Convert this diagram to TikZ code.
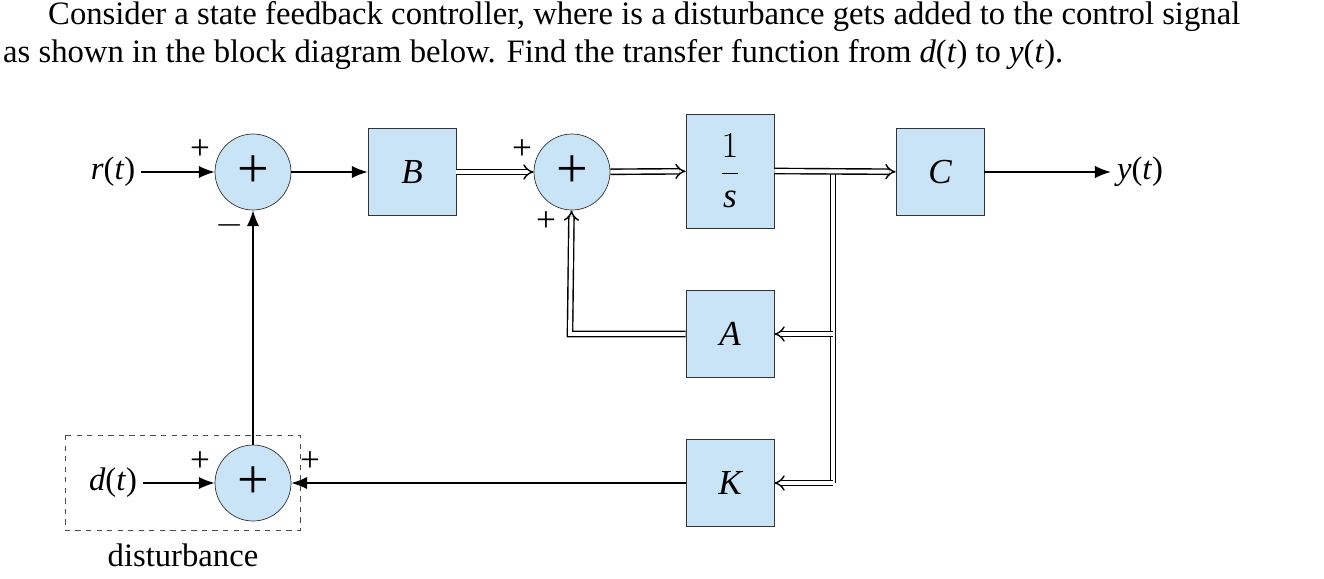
\documentclass[tikz,border=0pt]{standalone}
\usepackage{fontspec}
\setmainfont{Liberation Serif}
\usetikzlibrary{arrows.meta}
\definecolor{bfill}{RGB}{200,228,246}
\newcommand{\vv}[1]{\textit{#1}}
\begin{document}
\begin{tikzpicture}[x=0.02cm,y=-0.02cm,
  blk/.style={draw=black!80,fill=bfill,minimum width=1.76cm,minimum height=1.74cm,inner sep=0pt,font=\fontsize{20}{22}\selectfont\itshape},
  sum/.style={circle,draw=black!80,fill=bfill,minimum size=1.52cm,inner sep=0pt,font=\fontsize{32}{32}\selectfont},
  sig/.style={-{Latex[length=9pt,width=7pt]},thick},
  dbl/.style={double,double distance=2.2pt,thick,-{Implies[length=6pt]}},
  dbln/.style={double,double distance=2.2pt,thick},
  lab/.style={font=\fontsize{18.6}{22}\selectfont},
  pm/.style={font=\fontsize{20}{20}\selectfont}]
\useasboundingbox (0,0) rectangle (1324,578);
\node[lab,anchor=west] at (42,17) {Consider a state feedback controller, where is a disturbance gets added to the control signal};
\node[lab,anchor=west] at (-3,55) {as shown in the block diagram below. Find the transfer function from \vv{d}(\vv{t}) to \vv{y}(\vv{t}).};
\draw[dashed,black!70] (65,435) rectangle (300,530);
\node[lab] (dl) at (183,555) {disturbance};
\node[lab] (r) at (113,172) {\vv{r}(\vv{t})};
\node[lab] (d) at (113,483) {\vv{d}(\vv{t})};
\node[lab] (y) at (1140,172) {\vv{y}(\vv{t})};
\node[sum] (s1) at (253,172) {+};
\node[sum] (s2) at (572,172) {+};
\node[sum] (s3) at (253,483) {+};
\node[blk] (B) at (412,172) {B};
\node[blk,minimum height=2.28cm] (I) at (730,171) {$\displaystyle\frac{1}{\vv{s}}$};
\node[blk] (C) at (940,172) {C};
\node[blk] (A) at (730,334) {A};
\node[blk] (K) at (730,483) {K};
\node[pm] at (200,150) {+};
\node[pm] at (230,225) {$-$};
\node[pm] at (522,150) {+};
\node[pm] at (546,222) {+};
\node[pm] at (200,462) {+};
\node[pm] at (310,462) {+};
\coordinate (j) at (833,172);
\coordinate (ja) at (833,334);
\coordinate (jk) at (833,483);
\coordinate (fa) at (570,334);
\draw[sig] (r) -- (s1);
\draw[sig] (d) -- (s3);
\draw[sig] (s1) -- (B);
\draw[sig] (s3) -- (s1);
\draw[sig] (K) -- (s3);
\draw[sig] (C) -- (y);
\draw[dbl] (B) -- (s2);
\draw[dbl] (s2) -- (I);
\draw[dbln] (j) -- (jk);
\draw[dbl] (jk) -- (K);
\draw[dbl] (ja) -- (A);
\draw[dbl] (I.east) -- (C);
\draw[dbl] (A) -- (fa) -- (s2);
\end{tikzpicture}
\end{document}
